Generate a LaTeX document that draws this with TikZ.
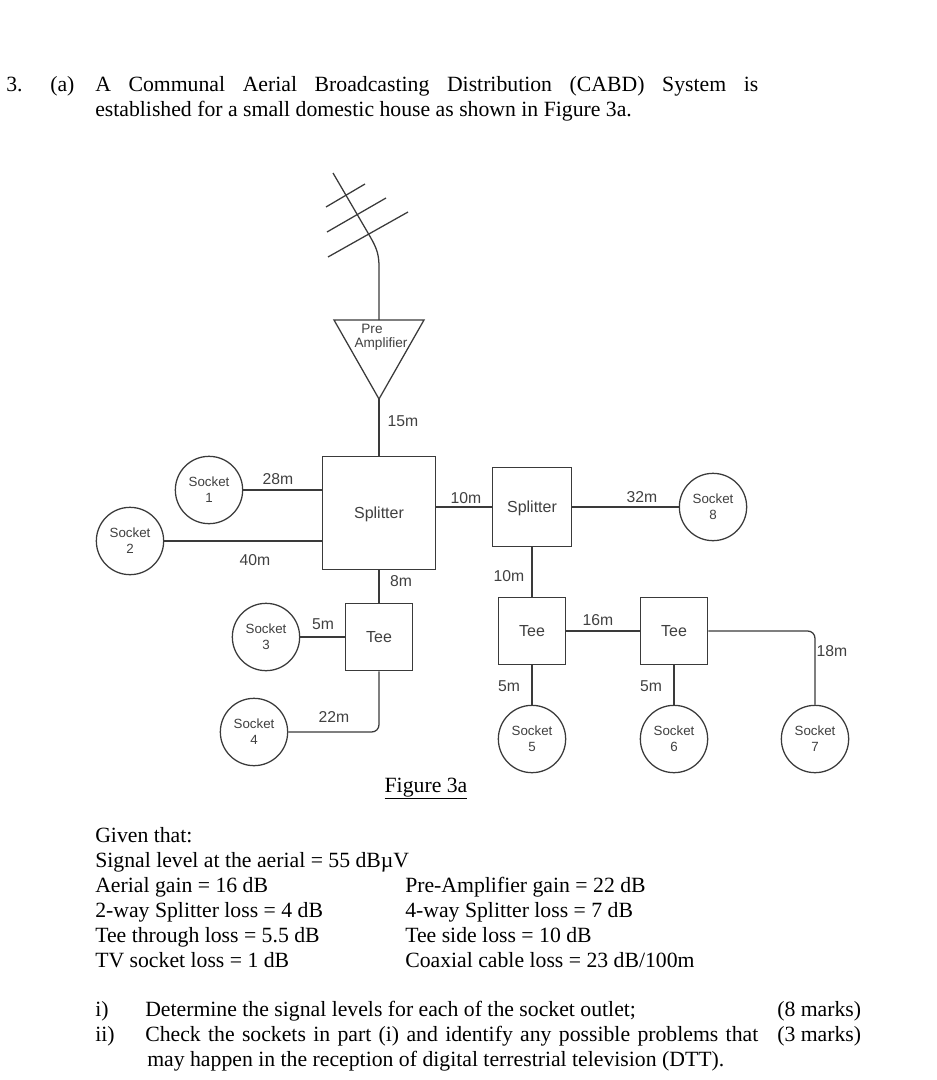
\documentclass[tikz,border=0pt]{standalone}
\usepackage{fontspec}
\setmainfont{Liberation Serif}
\setsansfont{Liberation Sans}
\usetikzlibrary{positioning}
\definecolor{dline}{HTML}{3A3A3A}
\definecolor{dlabel}{HTML}{404040}
\tikzset{
  dwire/.style={draw=dline, line width=0.95pt},
  dthin/.style={draw=dline, line width=0.95pt, line join=miter},
  dlbl/.style={text=dlabel, font=\sffamily\fontsize{11.8}{13}\selectfont, inner sep=0pt},
  dsmall/.style={text=dlabel, font=\sffamily\fontsize{10.2}{12}\selectfont, inner sep=0pt},
  dsock/.style={circle, draw=dline, fill=white, line width=0.95pt, minimum size=50.5pt,
                inner sep=0pt, align=center, text=dlabel,
                font=\sffamily\fontsize{10}{12}\selectfont},
  dbox/.style={rectangle, draw=dline, fill=white, line width=0.95pt, inner sep=0pt,
               text depth=0pt, text=dlabel, font=\sffamily\fontsize{12}{13}\selectfont},
  dtxt/.style={anchor=base west, inner sep=0pt, font=\fontsize{16.3}{18}\selectfont},
}
\begin{document}
\begin{tikzpicture}[x=0.75pt,y=-0.75pt]
  \useasboundingbox (0,0) rectangle (937,1080);

  % aerial
  \coordinate (mtop) at (333,173);
  \coordinate (mbend) at (368,233);
  \coordinate (ampin) at (379,320);
  \coordinate (ampout) at (379,399);
  \draw[dwire] (mtop) -- (mbend) .. controls (375,245) and (379,252) .. (379,266) -- (ampin);
  \draw[dwire] (326,207) -- (365,184);
  \draw[dwire] (327,232) -- (386,198);
  \draw[dwire] (328,257) -- (408,212);

  % pre amplifier
  \draw[dthin] (334,320) -- (424,320) -- (ampout) -- cycle;
  \node[dsmall] (amp1) at (372,329) {Pre};
  \node[dsmall] (amp2) at (381,344) {Amplifier};

  % boxes
  \node[dbox, minimum size=85pt]   (split1) at (379,513) {Splitter};
  \node[dbox, minimum size=59.5pt] (split2) at (532,507) {Splitter};
  \node[dbox, minimum size=50.5pt] (tee1) at (379,637) {Tee};
  \node[dbox, minimum size=50.5pt] (tee2) at (532,631) {Tee};
  \node[dbox, minimum size=50.5pt] (tee3) at (674,631) {Tee};

  % sockets
  \node[dsock] (sock1) at (209,490) {Socket\\1};
  \node[dsock] (sock2) at (130,541) {Socket\\2};
  \node[dsock] (sock3) at (266,637) {Socket\\3};
  \node[dsock] (sock4) at (254,732) {Socket\\4};
  \node[dsock] (sock5) at (532,739) {Socket\\5};
  \node[dsock] (sock6) at (674,739) {Socket\\6};
  \node[dsock] (sock7) at (815,739) {Socket\\7};
  \node[dsock] (sock8) at (713,507) {Socket\\8};

  % cables
  \draw[dwire] (ampout) -- (split1.north);
  \draw[dwire] (sock1.east) -- (sock1.east -| split1.west);
  \draw[dwire] (sock2.east) -- (sock2.east -| split1.west);
  \draw[dwire] (split2.west -| split1.east) -- (split2.west);
  \draw[dwire] (split1.south) -- (tee1.north);
  \draw[dwire] (sock3.east) -- (tee1.west);
  \draw[dwire, rounded corners=5.5pt] (tee1.south) |- (sock4.east);
  \draw[dwire] (split2.east) -- (sock8.west);
  \draw[dwire] (split2.south) -- (tee2.north);
  \draw[dwire] (tee2.east) -- (tee3.west);
  \draw[dwire] (tee2.south) -- (sock5.north);
  \draw[dwire] (tee3.south) -- (sock6.north);
  \draw[dwire, rounded corners=5.5pt] (tee3.east) -| (sock7.north);

  % lengths
  \node[dlbl] (l15) at (403,421) {15m};
  \node[dlbl] (l28) at (278,479) {28m};
  \node[dlbl] (l40) at (255,560) {40m};
  \node[dlbl] (l10a) at (466,498) {10m};
  \node[dlbl] (l8) at (401,581) {8m};
  \node[dlbl] (l5a) at (323,624) {5m};
  \node[dlbl] (l22) at (334,717) {22m};
  \node[dlbl] (l32) at (642,497) {32m};
  \node[dlbl] (l10b) at (509,576) {10m};
  \node[dlbl] (l16) at (598,620) {16m};
  \node[dlbl] (l5b) at (509,686) {5m};
  \node[dlbl] (l5c) at (651,686) {5m};
  \node[dlbl] (l18) at (832,651) {18m};

  % question text
  \node[dtxt] (qn) at (6,92) {3.};
  \node[dtxt] (qa) at (50,92) {(a)};
  \node[dtxt] (q1) at (95,92) {\makebox[497.25pt][s]{A Communal Aerial Broadcasting Distribution (CABD) System is}};
  \node[dtxt] (q2) at (95,117) {established for a small domestic house as shown in Figure 3a.};
  \node[dtxt, anchor=base] (fig) at (426,792) {\underline{Figure 3a}};

  \node[dtxt] (g0) at (95,842) {Given that:};
  \node[dtxt] (g1) at (95,867) {Signal level at the aerial = 55 dBµV};
  \node[dtxt] (g2) at (95,892) {Aerial gain = 16 dB};
  \node[dtxt] (g3) at (405,892) {Pre-Amplifier gain = 22 dB};
  \node[dtxt] (g4) at (95,917) {2-way Splitter loss = 4 dB};
  \node[dtxt] (g5) at (405,917) {4-way Splitter loss = 7 dB};
  \node[dtxt] (g6) at (95,942) {Tee through loss = 5.5 dB};
  \node[dtxt] (g7) at (405,942) {Tee side loss = 10 dB};
  \node[dtxt] (g8) at (95,967) {TV socket loss = 1 dB};
  \node[dtxt] (g9) at (405,967) {Coaxial cable loss = 23 dB/100m};

  \node[dtxt] (p1) at (95,1016) {i)};
  \node[dtxt] (t1) at (145,1016) {Determine the signal levels for each of the socket outlet;};
  \node[dtxt] (m1) at (777,1016) {(8 marks)};
  \node[dtxt] (p2) at (95,1041) {ii)};
  \node[dtxt] (t2) at (145,1041) {\makebox[459.75pt][s]{Check the sockets in part (i) and identify any possible problems that}};
  \node[dtxt] (m2) at (777,1041) {(3 marks)};
  \node[dtxt] (t3) at (147,1066) {may happen in the reception of digital terrestrial television (DTT).};
\end{tikzpicture}
\end{document}
